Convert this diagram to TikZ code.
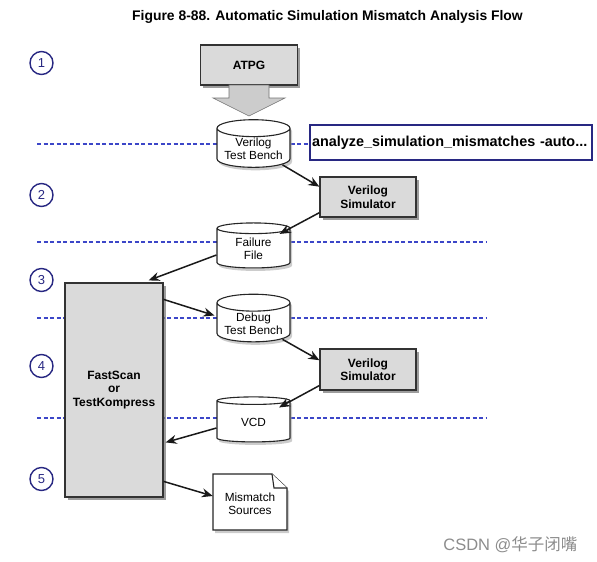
\documentclass[tikz,border=0pt]{standalone}
\usepackage{fontspec}
\setmainfont{Liberation Sans}
\newfontfamily\cjk{Noto Sans CJK SC}
\usetikzlibrary{shapes.geometric, shadows, arrows.meta, calc}
\definecolor{navy}{RGB}{40,40,130}
\definecolor{dashblue}{RGB}{60,70,200}
\definecolor{boxgray}{RGB}{218,218,218}
\begin{document}
\begin{tikzpicture}[x=1pt,y=-1pt,
  shad/.style={drop shadow={shadow xshift=2.5pt, shadow yshift=-2.5pt, fill=black!55, opacity=0.7}},
  softshad/.style={drop shadow={shadow xshift=2pt, shadow yshift=-3pt, fill=black!40, opacity=0.5}},
  procbox/.style={draw=black!80, line width=1.2pt, fill=boxgray, font=\bfseries\fontsize{12}{13.5}\selectfont, align=center, shad},
  cyl/.style={cylinder, shape border rotate=90, aspect=0.28, draw=black!85, line width=1.1pt, fill=white,
    minimum width=73pt, minimum height=45pt, align=center, font=\fontsize{11.8}{13}\selectfont, softshad, inner sep=1pt},
  numc/.style={circle, draw=navy, line width=1.4pt, minimum size=23pt, inner sep=0pt, text=navy, font=\fontsize{13}{14}\selectfont},
  dline/.style={dashblue, line width=1.3pt, dash pattern=on 4pt off 2.5pt},
  arr/.style={-{Stealth[length=11pt,width=9pt]}, line width=1.5pt, black!90},
]
\useasboundingbox (0,0) rectangle (597,562);

% title
\node[font=\bfseries\fontsize{13.9}{16}\selectfont] (title) at (327.5,17) {Figure 8-88. Automatic Simulation Mismatch Analysis Flow};

% dashed lines
\draw[dline] (37,144) -- (311,144);
\draw[dline] (37,242) -- (487,242);
\draw[dline] (37,318) -- (487,318);
\draw[dline] (37,418) -- (487,418);

% step numbers
\node[numc] (n1) at (41.5,63) {1};
\node[numc] (n2) at (41.5,195) {2};
\node[numc] (n3) at (41.5,280) {3};
\node[numc] (n4) at (41.5,366) {4};
\node[numc] (n5) at (41.5,479) {5};

% ATPG and block arrow
\node[procbox, minimum width=97pt, minimum height=40pt] (atpg) at (249,65) {ATPG};
\draw[black!55, line width=0.6pt, fill=gray!40]
  (229,85) -- (269,85) -- (269,98) -- (285,98) -- (249,116) -- (213,98) -- (229,98) -- cycle;

% command box
\node[draw=navy, line width=1.1pt, fill=white, minimum width=282pt, minimum height=35pt, inner xsep=2pt,
  text width=278pt, align=left, font=\bfseries\fontsize{14.4}{16}\selectfont] (cmd) at (451,142.5)
  {analyze\_simulation\_mismatches -auto...};

% cylinders
\node[cyl] (vtb) at (253.5,149) {Verilog\\Test Bench};
\node[cyl] (ff) at (253.5,249) {Failure\\File};
\node[cyl] (dtb) at (253.5,323.5) {Debug\\Test Bench};
\node[cyl] (vcd) at (253.5,422) {VCD};

% simulators
\node[procbox, minimum width=96pt, minimum height=40pt] (sim1) at (368,197) {Verilog\\Simulator};
\node[procbox, minimum width=96pt, minimum height=41pt] (sim2) at (368,369.5) {Verilog\\Simulator};

% FastScan
\node[procbox, minimum width=98pt, minimum height=214pt] (fs) at (114,390) {FastScan\\or\\TestKompress};

% Mismatch sources document
\draw[black!85, line width=1.1pt, fill=white, softshad]
  (213,474) -- (272,474) -- (287,488) -- (287,530) -- (213,530) -- cycle;
\draw[black!85, line width=1.1pt, fill=white] (272,474) -- (274,488) -- (287,488);
\node[align=center, font=\fontsize{11.8}{13.5}\selectfont, minimum width=74pt, minimum height=56pt] (ms) at (250,504) {Mismatch\\Sources};

% connectors
\draw[arr] ($(vtb.south)+(29,-3)$) -- ($(sim1.north west)!0.25!(sim1.south west)$);
\draw[arr] ($(sim1.north west)!0.88!(sim1.south west)$) -- ($(ff.north east)+(1,10)$);
\draw[arr] ($(ff.west)+(0,6)$) -- ($(fs.north east)+(-15,-2)$);
\draw[arr] ($(fs.north east)+(0,17)$) -- ($(dtb.west)+(-2,-8)$);
\draw[arr] ($(dtb.south)+(29,-3)$) -- ($(sim2.north west)!0.28!(sim2.south west)$);
\draw[arr] ($(sim2.north west)!0.88!(sim2.south west)$) -- ($(vcd.north east)+(1,10)$);
\draw[arr] ($(vcd.west)+(0,6)$) -- ($(fs.north east)+(2,160)$);
\draw[arr] ($(fs.north east)+(0,199)$) -- ($(ms.west)+(0,-8)$);

% watermark
\node[text=black!45, font=\fontsize{16.5}{18}\selectfont, anchor=east] (wm) at (581,545) {CSDN @{\cjk 华子闭嘴}};
\end{tikzpicture}
\end{document}
